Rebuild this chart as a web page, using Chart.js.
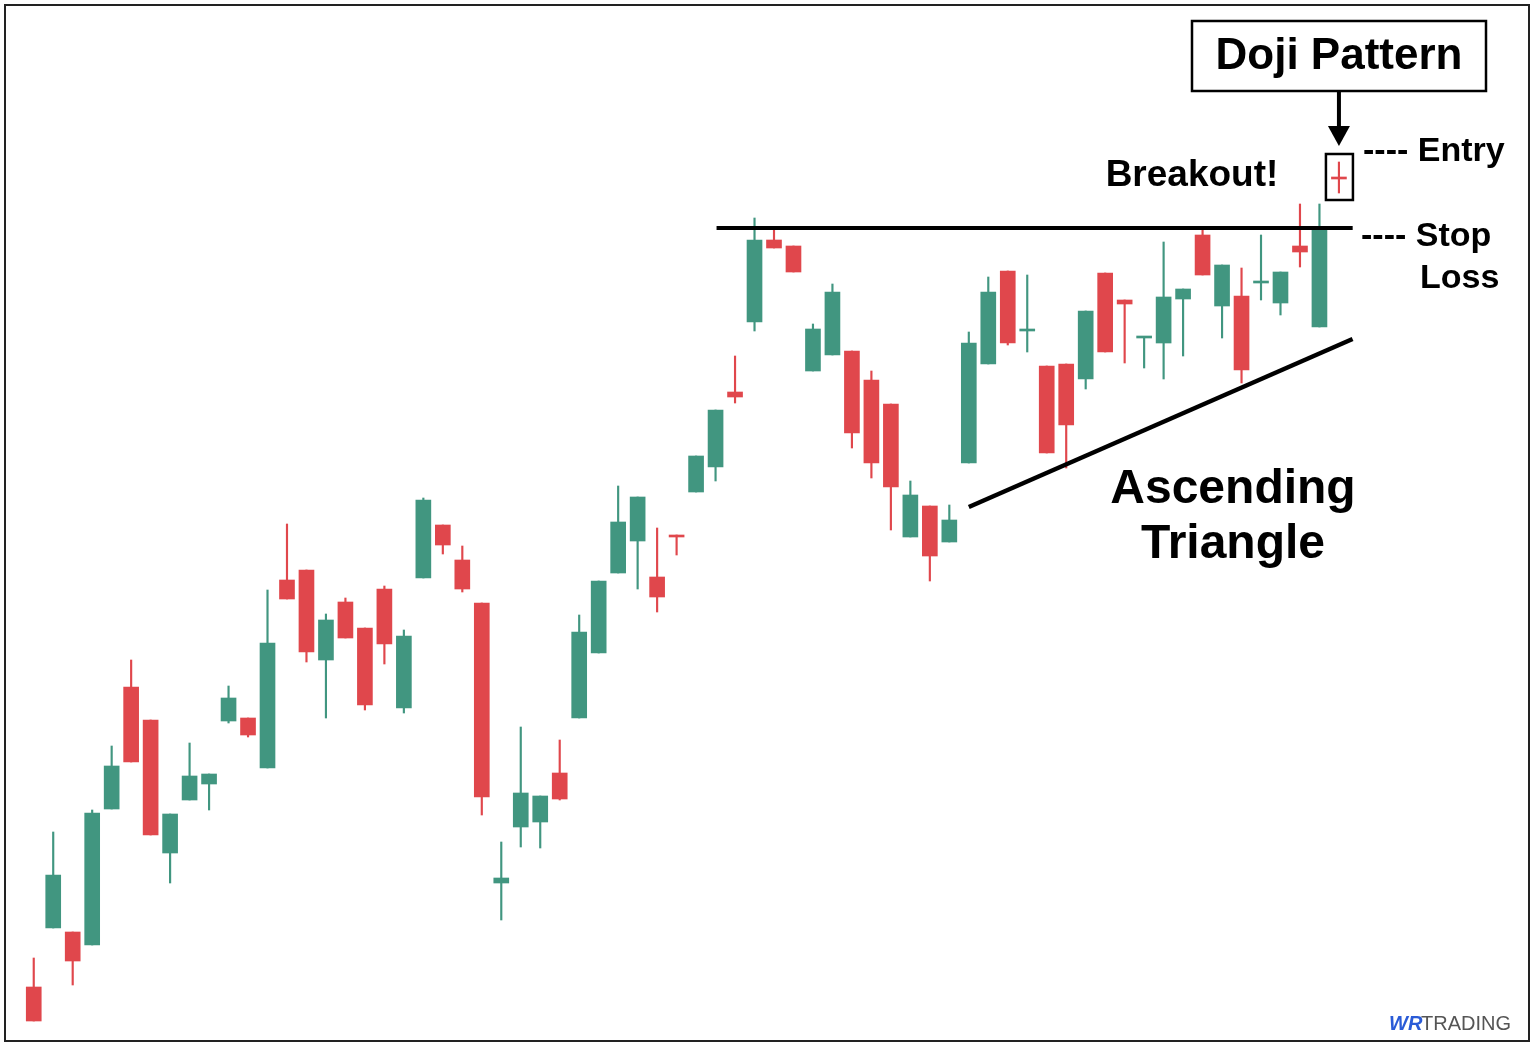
<!DOCTYPE html>
<html>
<head>
<meta charset="utf-8">
<script src="https://cdn.jsdelivr.net/npm/chart.js@4.4.1/dist/chart.umd.min.js"></script>
<style>
  html, body { margin: 0; padding: 0; background: #fff; }
  #wrap { position: absolute; left: 0; top: 0; width: 1536px; height: 1048px; }
  #frame { position: absolute; left: 4px; top: 4px; width: 1526px; height: 1038px; border: 2.5px solid #222; box-sizing: border-box; }
</style>
</head>
<body>
<div id="wrap">
  <div id="frame"></div>
  <canvas id="myChart" width="1536" height="1048"></canvas>
</div>
<script>
// candle values (price units, higher = up)
var opens  = [61,120,116,103,239,361,328,195,248,264,327,330,280,468,478,388,446,420,459,340,470,523,488,445,165,221,226,275,330,395,475,507,471,513,556,581,656,726,808,802,677,693,697,668,644,511,542,506,585,684,777,717,682,684,669,775,748,710,705,749,813,742,752,765,745,802,721,871];
var closes = [27,173,87,235,282,286,213,234,272,274,350,313,405,449,396,428,410,343,404,412,548,503,459,251,170,255,252,249,416,467,526,551,451,511,592,638,651,808,800,776,719,756,615,585,561,553,492,528,705,756,705,718,595,623,737,696,744,711,751,759,773,783,678,766,776,796,819,870];
var highs  = [90,216,116,238,302,388,328,234,305,274,362,330,458,524,478,434,450,420,462,418,550,523,502,445,206,321,252,308,433,467,562,551,520,513,592,638,692,830,818,802,724,764,697,677,644,567,542,543,716,771,777,773,682,684,737,775,748,711,806,759,818,783,780,813,776,844,844,886];
var lows   = [27,120,63,103,239,286,213,165,248,238,325,311,280,449,386,330,410,338,384,335,470,494,456,233,128,201,200,248,330,395,475,459,436,493,556,567,645,717,800,776,677,693,600,570,518,511,467,506,585,684,703,696,595,580,659,696,685,680,669,692,773,710,665,748,733,781,721,855];
var breakoutLevel = 820;          // resistance
var supportFrom = [48.0, 541];    // [candle index, price]
var supportTo   = [67.7, 709];
var blankSlots = 9;

var GREEN = 'rgb(65,150,128)';
var RED = 'rgb(224,71,76)';

var labels = [];
var wicks = [];
var bodies = [];
var colors = [];
for (var i = 0; i < opens.length; i++) {
    labels.push(String(i));
    wicks.push([lows[i], highs[i]]);
    var o = opens[i], c = closes[i];
    if (Math.abs(o - c) < 2) { c = o + (c >= o ? 2 : -2); }
    bodies.push([o, c]);
    colors.push(closes[i] >= opens[i] ? GREEN : RED);
}
for (var j = 0; j < blankSlots; j++) { labels.push(''); wicks.push(null); bodies.push(null); }

var annotations = {
    id: 'annotations',
    afterDraw: function (chart) {
        var ctx = chart.ctx, xs = chart.scales.x, ys = chart.scales.y;
        var half = (xs.getPixelForValue(1) - xs.getPixelForValue(0)) / 2;
        ctx.save();
        ctx.strokeStyle = '#000';
        ctx.lineCap = 'butt';
        // resistance line
        ctx.lineWidth = 4;
        ctx.beginPath();
        ctx.moveTo(xs.getPixelForValue(35) + 1, ys.getPixelForValue(breakoutLevel));
        ctx.lineTo(xs.getPixelForValue(67) + half + 4, ys.getPixelForValue(breakoutLevel));
        ctx.stroke();
        // support line
        ctx.lineWidth = 4.5;
        ctx.beginPath();
        ctx.moveTo(xs.getPixelForValue(0) + supportFrom[0] * half * 2, ys.getPixelForValue(supportFrom[1]));
        ctx.lineTo(xs.getPixelForValue(0) + supportTo[0] * half * 2, ys.getPixelForValue(supportTo[1]));
        ctx.stroke();

        // doji box
        var dx = xs.getPixelForValue(67);
        ctx.lineWidth = 2.5;
        ctx.strokeRect(dx - 13, ys.getPixelForValue(highs[67]) - 8, 27, 46);
        // arrow
        ctx.lineWidth = 4;
        ctx.beginPath();
        ctx.moveTo(dx, 92);
        ctx.lineTo(dx, 128);
        ctx.stroke();
        ctx.fillStyle = '#000';
        ctx.beginPath();
        ctx.moveTo(dx - 11, 126);
        ctx.lineTo(dx + 11, 126);
        ctx.lineTo(dx, 146);
        ctx.closePath();
        ctx.fill();

        // Doji Pattern label
        ctx.lineWidth = 2.5;
        ctx.strokeRect(1192, 21, 294, 70);
        ctx.font = 'bold 44px "Liberation Sans", Arial, sans-serif';
        ctx.textAlign = 'center';
        ctx.textBaseline = 'middle';
        ctx.fillText('Doji Pattern', 1339, 57);

        ctx.font = 'bold 37px "Liberation Sans", Arial, sans-serif';
        ctx.fillText('Breakout!', 1192, 176);

        ctx.textAlign = 'left';
        ctx.font = 'bold 34px "Liberation Sans", Arial, sans-serif';
        ctx.fillText('---- Entry', 1363, 152);
        ctx.fillText('---- Stop', 1361, 237);
        ctx.fillText('Loss', 1420, 279);

        ctx.textAlign = 'center';
        ctx.font = 'bold 48px "Liberation Sans", Arial, sans-serif';
        ctx.fillText('Ascending', 1233, 490);
        ctx.fillText('Triangle', 1233, 545);

        // watermark
        ctx.textAlign = 'left';
        ctx.font = 'italic bold 20px "Liberation Sans", Arial, sans-serif';
        ctx.fillStyle = '#2a5bd7';
        ctx.fillText('WR', 1389, 1024);
        ctx.font = '20px "Liberation Sans", Arial, sans-serif';
        ctx.fillStyle = '#555';
        ctx.fillText('TRADING', 1421, 1024);
        ctx.restore();
    }
};

var ctx = document.getElementById('myChart').getContext('2d');
new Chart(ctx, {
    type: 'bar',
    data: {
        labels: labels,
        datasets: [{
            label: 'wick',
            data: wicks,
            backgroundColor: colors,
            barThickness: 1.5,
            grouped: false,
            order: 2
        }, {
            label: 'body',
            data: bodies,
            backgroundColor: colors,
            barThickness: 15,
            grouped: false,
            order: 1
        }]
    },
    options: {
        responsive: false,
        animation: false,
        layout: { padding: { left: 24, right: 12, top: 8, bottom: 8 } },
        plugins: { legend: { display: false }, tooltip: { enabled: false } },
        scales: {
            x: { display: false, offset: true },
            y: { display: false, min: 8, max: 1040 }
        }
    },
    plugins: [annotations]
});
</script>
</body>
</html>
